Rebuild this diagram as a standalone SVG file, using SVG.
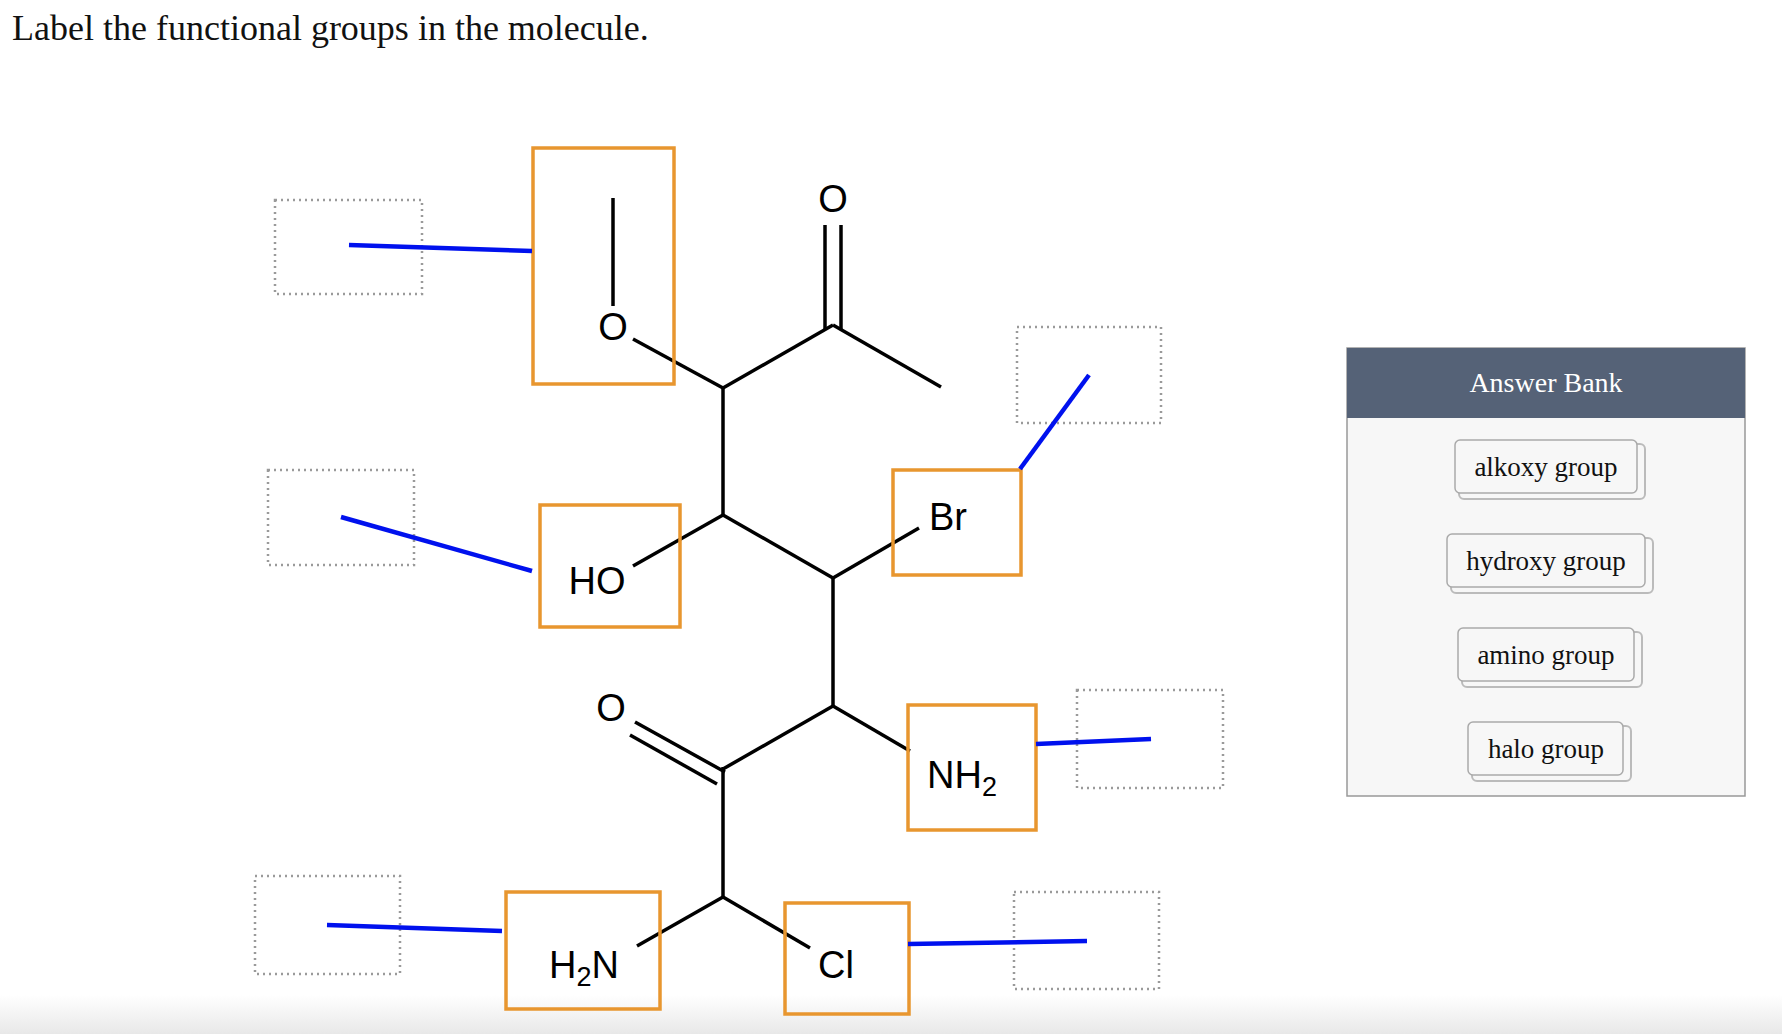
<svg xmlns="http://www.w3.org/2000/svg" width="1782" height="1034" viewBox="0 0 1782 1034">
<style>
.t{font-family:"Liberation Serif",serif;fill:#111}
.a{font-family:"Liberation Sans",Arial,sans-serif;font-size:38px;fill:#000}
.b{stroke:#000;stroke-width:3.5;fill:none;stroke-linecap:butt}
.o{fill:none;stroke:#e8962f;stroke-width:3.5}
.d{fill:none;stroke:#9a9a9a;stroke-width:2.5;stroke-dasharray:2 4}
.c{stroke:#0011ee;stroke-width:4.5}
.btn{fill:#f7f7f7;stroke:#aaa;stroke-width:1.5}
.sh{fill:none;stroke:#bbb;stroke-width:2}
</style>
<defs><linearGradient id="g" x1="0" y1="0" x2="0" y2="1"><stop offset="0" stop-color="#fff"/><stop offset="1" stop-color="#e8e8e8"/></linearGradient></defs>
<rect width="1782" height="1034" fill="#fff"/>
<rect y="995" width="1782" height="39" fill="url(#g)"/>
<text class="t" x="12" y="40" font-size="36">Label the functional groups in the molecule.</text>
<g id="molecule">
<line class="b" x1="613" y1="198" x2="613" y2="306"/>
<line class="b" x1="633" y1="339" x2="723" y2="388"/>
<line class="b" x1="723" y1="388" x2="833" y2="325"/>
<line class="b" x1="825" y1="225" x2="825" y2="330"/>
<line class="b" x1="841" y1="225" x2="841" y2="330"/>
<line class="b" x1="833" y1="325" x2="941" y2="387"/>
<line class="b" x1="723" y1="386" x2="723" y2="516"/>
<line class="b" x1="723" y1="515" x2="633" y2="566"/>
<line class="b" x1="723" y1="515" x2="833" y2="578"/>
<line class="b" x1="833" y1="578" x2="919" y2="528"/>
<line class="b" x1="833" y1="576" x2="833" y2="708"/>
<line class="b" x1="833" y1="706" x2="910" y2="751"/>
<line class="b" x1="833" y1="706" x2="723" y2="769"/>
<line class="b" x1="635" y1="722" x2="725" y2="772"/>
<line class="b" x1="630" y1="735" x2="717" y2="784"/>
<line class="b" x1="723" y1="767" x2="723" y2="899"/>
<line class="b" x1="723" y1="897" x2="637" y2="946"/>
<line class="b" x1="723" y1="897" x2="810" y2="948"/>
<text class="a" x="613" y="340" text-anchor="middle">O</text>
<text class="a" x="833" y="212" text-anchor="middle">O</text>
<text class="a" x="611" y="721" text-anchor="middle">O</text>
<text class="a" x="597" y="594" text-anchor="middle">HO</text>
<text class="a" x="929" y="530">Br</text>
<text class="a" x="927" y="788">NH<tspan font-size="27" dy="8">2</tspan></text>
<text class="a" x="549" y="978">H<tspan font-size="27" dy="8">2</tspan><tspan dy="-8">N</tspan></text>
<text class="a" x="818" y="978">Cl</text>
</g>
<g id="targets">
<rect class="o" x="533" y="148" width="141" height="236"/>
<rect class="o" x="540" y="505" width="140" height="122"/>
<rect class="o" x="893" y="470" width="128" height="105"/>
<rect class="o" x="908" y="705" width="128" height="125"/>
<rect class="o" x="506" y="892" width="154" height="117"/>
<rect class="o" x="785" y="903" width="124" height="111"/>
</g>
<g id="dropzones">
<rect class="d" x="275" y="200" width="147" height="94"/>
<rect class="d" x="268" y="470" width="146" height="95"/>
<rect class="d" x="1017" y="327" width="144" height="96"/>
<rect class="d" x="1077" y="690" width="146" height="98"/>
<rect class="d" x="255" y="876" width="145" height="98"/>
<rect class="d" x="1014" y="892" width="145" height="97"/>
</g>
<g id="connectors">
<line class="c" x1="349" y1="245" x2="532" y2="251"/>
<line class="c" x1="341" y1="517" x2="532" y2="571"/>
<line class="c" x1="1089" y1="375" x2="1020" y2="469"/>
<line class="c" x1="1036" y1="744" x2="1151" y2="739"/>
<line class="c" x1="327" y1="925" x2="502" y2="931"/>
<line class="c" x1="908" y1="944" x2="1087" y2="941"/>
</g>
<g id="answer-bank">
<rect x="1347" y="348" width="398" height="448" fill="#f7f7f7" stroke="#999" stroke-width="1.5"/>
<rect x="1347" y="348" width="398" height="70" fill="#556277"/>
<text class="t" x="1546" y="392" font-size="28" style="fill:#fff" text-anchor="middle">Answer Bank</text>
<g id="b1"><rect class="sh" x="1459" y="444" width="186" height="55" rx="5"/><rect class="btn" x="1455" y="440" width="182" height="53" rx="5"/><text class="t" x="1546" y="476" font-size="27" text-anchor="middle">alkoxy group</text></g>
<g id="b2"><rect class="sh" x="1451" y="538" width="202" height="55" rx="5"/><rect class="btn" x="1447" y="534" width="198" height="53" rx="5"/><text class="t" x="1546" y="570" font-size="27" text-anchor="middle">hydroxy group</text></g>
<g id="b3"><rect class="sh" x="1462" y="632" width="180" height="55" rx="5"/><rect class="btn" x="1458" y="628" width="176" height="53" rx="5"/><text class="t" x="1546" y="664" font-size="27" text-anchor="middle">amino group</text></g>
<g id="b4"><rect class="sh" x="1472" y="726" width="159" height="55" rx="5"/><rect class="btn" x="1468" y="722" width="155" height="53" rx="5"/><text class="t" x="1546" y="758" font-size="27" text-anchor="middle">halo group</text></g>
</g>
</svg>
